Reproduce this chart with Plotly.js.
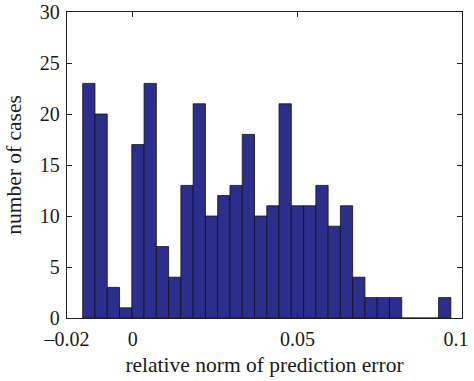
<!DOCTYPE html>
<html>
<head>
<meta charset="utf-8">
<script src="https://cdn.plot.ly/plotly-3.0.1.min.js"></script>
<style>html,body{margin:0;padding:0;background:#fff;}#chart{width:474px;height:381px;}</style>
</head>
<body>
<div id="chart"></div>
<script>
const binCenters = [-0.01337,-0.00964,-0.00591,-0.00218,0.00155,0.00528,0.00901,0.01273,0.01646,0.02019,
  0.02392,0.02764,0.03137,0.03510,0.03883,0.04256,0.04628,0.05001,0.05374,0.05747,
  0.06120,0.06492,0.06865,0.07238,0.07611,0.07983,0.08356,0.08729,0.09102,0.09475];
const counts = [23,20,3,1,17,23,7,4,13,21,10,12,13,18,10,11,21,11,11,13,9,11,4,2,2,2,0,0,0,2];
const xTickVals = [-0.02,0,0.05,0.1];
const xTickText = ['\u20130.02','0','0.05','0.1'];
const yTickVals = [0,5,10,15,20,25,30];

const fam = '"Liberation Serif", "Times New Roman", serif';
const tickFont = {family:fam, size:20, color:'#1a1a1a'};
const titleFont = {family:fam, size:21.5, color:'#1a1a1a'};
const trace = {
  type:'bar', x:binCenters, y:counts, width:0.003728,
  marker:{color:'#2b2e8c', line:{color:'#111', width:0.8}},
  hoverinfo:'none'
};
const layout = {
  width:474, height:381,
  margin:{l:67, r:12, t:12, b:63},
  paper_bgcolor:'#fff', plot_bgcolor:'#fff',
  font:tickFont, showlegend:false, bargap:0,
  xaxis:{range:[-0.02,0.1], tickvals:xTickVals, ticktext:xTickText,
    ticks:'inside', ticklen:5, tickcolor:'#222', showline:true, linecolor:'#222', linewidth:1.2,
    mirror:'ticks', showgrid:false, zeroline:false, tickfont:tickFont, ticklabelstandoff:3,
    ticklabeloverflow:'allow',
    title:{text:'relative norm of prediction error', font:titleFont, standoff:7}},
  yaxis:{range:[0,30], tickvals:yTickVals,
    ticks:'inside', ticklen:5, tickcolor:'#222', showline:true, linecolor:'#222', linewidth:1.2,
    mirror:'ticks', showgrid:false, zeroline:false, tickfont:tickFont, ticklabelstandoff:2,
    title:{text:'number of cases', font:titleFont, standoff:12}}
};
Plotly.newPlot('chart',[trace],layout,{displayModeBar:false,staticPlot:true}).then(function(gd){
  // nudge the last x tick label left so it stays inside the page, as in the reference
  gd.querySelectorAll('.xtick text').forEach(function(t){
    if (t.textContent === '0.1') t.setAttribute('dx', '-6');
  });
});
</script>
</body>
</html>
